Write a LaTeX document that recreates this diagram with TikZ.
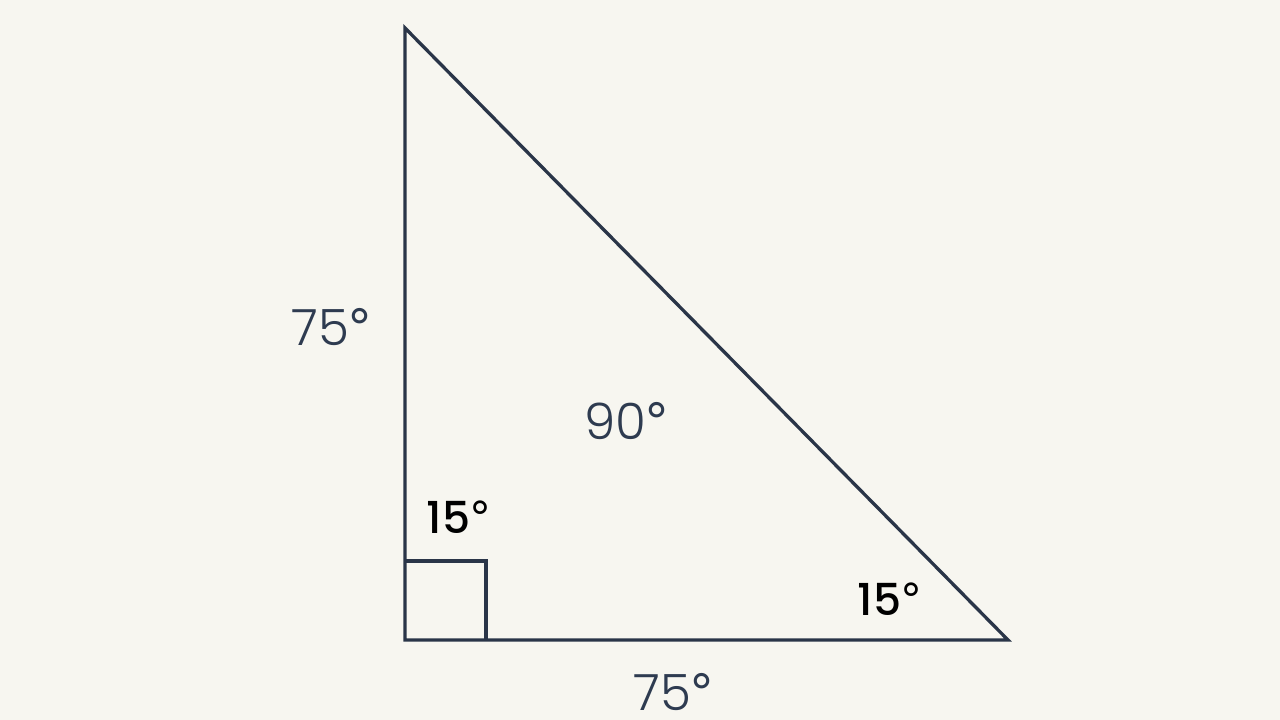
\documentclass[tikz,border=0pt]{standalone}
\usepackage{fontspec}
\newfontfamily\lightf{Poppins Light}
\newfontfamily\medf{Poppins Medium}
\newfontfamily\degf{DejaVu Sans}
\newcommand{\dg}{{\degf\kern-0.03em°}}
\definecolor{bg}{HTML}{F7F6F0}
\definecolor{ink}{HTML}{2A3548}
\definecolor{lbl}{HTML}{2E3B50}
\begin{document}
\begin{tikzpicture}[x=1pt,y=-1pt,
  edge/.style={draw=ink,line width=3.3pt,line join=miter},
  thinlbl/.style={text=lbl,font=\lightf\fontsize{50}{50}\selectfont,inner sep=0pt},
  boldlbl/.style={text=black,font=\medf\fontsize{44}{44}\selectfont,inner sep=0pt}]
\fill[bg] (0,0) rectangle (1280,720);
\useasboundingbox (0,0) rectangle (1280,720);
\coordinate (A) at (405,28);
\coordinate (B) at (405,640);
\coordinate (C) at (1008,640);
\draw[edge] (A) -- (B) -- (C) -- cycle;
\coordinate (S1) at (405,561);
\coordinate (S2) at (486,561);
\coordinate (S3) at (486,640);
\draw[edge] (S1) -- (S2) -- (S3);
\node[thinlbl] (l1) at (332,327) {75\dg};
\node[thinlbl] (l2) at (627,421) {90\dg};
\node[boldlbl] (l3) at (459,517) {15\dg};
\node[boldlbl] (l4) at (890,599) {15\dg};
\node[thinlbl] (l5) at (674,692) {75\dg};
\end{tikzpicture}
\end{document}
